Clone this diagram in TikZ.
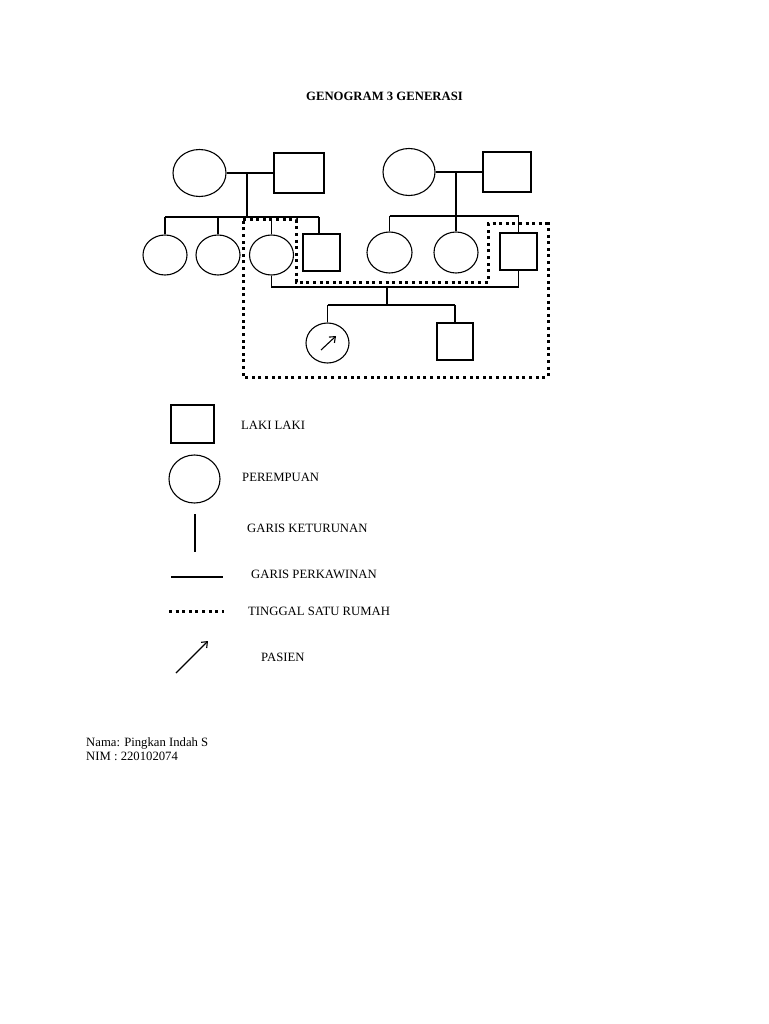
\documentclass[tikz,border=0pt]{standalone}
\usepackage{fontspec}
\setmainfont{Liberation Serif}
\usetikzlibrary{shapes.geometric,arrows.meta,calc}
\begin{document}
\begin{tikzpicture}[x=1pt,y=-1pt,
  font=\fontsize{12.7}{15}\selectfont,
  female/.style={draw, ellipse, line width=1.1pt, inner sep=0pt},
  male/.style={draw, rectangle, line width=1.1pt, inner sep=0pt},
  rel/.style={line width=1.1pt},
  house/.style={line width=3pt, dash pattern=on 3pt off 3.6pt, line cap=butt},
  lbl/.style={anchor=west, inner sep=0pt},
  ptr/.style={line width=1.1pt, -{Straight Barb[length=5pt,width=8pt]}}]
\useasboundingbox (0,0) rectangle (768,1024);
\fill[white] (0,0) rectangle (768,1024);

\node[font=\fontsize{12.7}{15}\selectfont\bfseries] (title) at (384.5,96) {GENOGRAM 3 GENERASI};

% generation 1
\node[female, minimum width=53pt, minimum height=47pt] (gm1) at (199.5,173) {};
\node[male, minimum width=50pt, minimum height=40pt] (gf1) at (299,173) {};
\node[female, minimum width=52pt, minimum height=47pt] (gm2) at (409,172) {};
\node[male, minimum width=48pt, minimum height=40pt] (gf2) at (507,172) {};

% generation 2
\node[female, minimum width=44pt, minimum height=40pt] (c1) at (165,255) {};
\node[female, minimum width=44pt, minimum height=40pt] (c2) at (218,255) {};
\node[female, minimum width=44pt, minimum height=40pt] (c3) at (271.5,255) {};
\node[male, minimum width=37pt, minimum height=37pt] (c4) at (321.5,252.5) {};
\node[female, minimum width=45pt, minimum height=41pt] (c5) at (389.5,252.5) {};
\node[female, minimum width=44pt, minimum height=41pt] (c6) at (456,252.5) {};
\node[male, minimum width=37pt, minimum height=37pt] (c7) at (518.5,251.5) {};

% generation 3
\node[female, minimum width=43pt, minimum height=40pt] (p1) at (327.5,343) {};
\node[male, minimum width=36pt, minimum height=37pt] (p2) at (455,341.5) {};

% marriage and descent lines, left family
\coordinate (m1) at (247,173);
\coordinate (sib1) at (247,217);
\coordinate (c4top) at (319,217);
\draw[rel] (gm1.east) -- (gf1.west);
\draw[rel] (m1) -- (sib1);
\draw[rel] (c1.north |- sib1) -- (c4top);
\draw[rel] (c1.north |- sib1) -- (c1.north);
\draw[rel] (c2.north |- sib1) -- (c2.north);
\draw[rel] (c3.north |- sib1) -- (c3.north);
\draw[rel] (c4top) -- (c4top |- c4.north);

% right family
\coordinate (m2) at (456,172);
\coordinate (sib2) at (456,216);
\draw[rel] (gm2.east) -- (gf2.west);
\draw[rel] (m2) -- (sib2);
\draw[rel] (c5.north |- sib2) -- (c7.north |- sib2);
\draw[rel] (c5.north |- sib2) -- (c5.north);
\draw[rel] (c6.north |- sib2) -- (c6.north);
\draw[rel] (c7.north |- sib2) -- (c7.north);

% parents of patient
\coordinate (m3) at (387,287);
\coordinate (sib3) at (387,305);
\draw[rel] (c3.south) -- (c3.south |- m3) -- (c7.south |- m3) -- (c7.south);
\draw[rel] (m3) -- (sib3);
\draw[rel] (p1.north |- sib3) -- (p2.north |- sib3);
\draw[rel] (p1.north |- sib3) -- (p1.north);
\draw[rel] (p2.north |- sib3) -- (p2.north);
\coordinate (pa1) at ($(p1.center)+(-6.5,7)$);
\coordinate (pa2) at ($(p1.center)+(8.5,-7)$);
\draw[ptr] (pa1) -- (pa2);

% household boundary
\draw[house] (243,220) -- (296,220) -- (296,282) -- (488,282) -- (488,224) -- (548,224) -- (548,377) -- (243,377) -- cycle;

% legend
\node[male, minimum width=43pt, minimum height=38pt] (lm) at (192.5,424) {};
\node[lbl] (tlm) at (241,425) {LAKI LAKI};
\node[female, minimum width=51pt, minimum height=48pt] (lf) at (194.5,479) {};
\node[lbl] (tlf) at (242,477) {PEREMPUAN};
\coordinate (ld1) at (195,514);
\coordinate (ld2) at (195,552);
\draw[rel] (ld1) -- (ld2);
\node[lbl] (tld) at (247,528) {GARIS KETURUNAN};
\coordinate (lp1) at (171,577);
\coordinate (lp2) at (223,577);
\draw[rel] (lp1) -- (lp2);
\node[lbl] (tlp) at (251,574) {GARIS PERKAWINAN};
\coordinate (lh1) at (169,611);
\coordinate (lh2) at (224,611);
\draw[house] (lh1) -- (lh2);
\node[lbl] (tlh) at (248,611) {TINGGAL SATU RUMAH};
\coordinate (la1) at (176,673);
\coordinate (la2) at (208,641);
\draw[ptr] (la1) -- (la2);
\node[lbl] (tla) at (261,657) {PASIEN};

% author
\node[lbl] (nama) at (86,743) {Nama: Pingkan Indah S};
\node[lbl] (nim) at (86,756) {NIM : 220102074};
\end{tikzpicture}
\end{document}
